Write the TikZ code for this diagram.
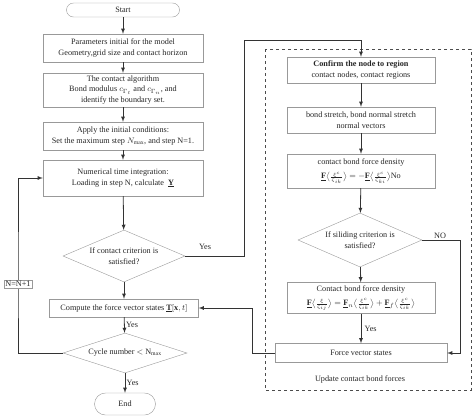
\documentclass[tikz,border=0pt]{standalone}
\usepackage{fontspec}
\setmainfont{Liberation Serif}
\usepackage{amsmath}
\usetikzlibrary{shapes.geometric,arrows}

\newcommand{\sfr}[2]{\genfrac{}{}{}{2}{#1}{#2}}

\begin{document}
\begin{tikzpicture}[x=1pt,y=-1pt,
    every node/.style={font=\fontsize{8.2}{10.5}\selectfont, text=black!85, align=center},
    box/.style={draw=black!40, inner sep=1pt},
    rbox/.style={draw=black!40, rounded corners=7pt, inner sep=1pt},
    cond/.style={diamond, draw=black!40, aspect=2.35, inner sep=0pt},
    line/.style={draw=black!80, thick},
    arr/.style={line, -latex}]

        \useasboundingbox (0,0) rectangle (474,418);

        % left column
        \node[rbox, minimum width=113, minimum height=14] (start) at (123,10) {Start};
        \node[box, minimum width=160, minimum height=28] (param) at (123,48)
          {Parameters initial for the model\\ Geometry,grid size and contact horizon};
        \node[box, minimum width=160, minimum height=34] (algo) at (123,90)
          {The contact algorithm\\ Bond modulus $c_{\Gamma_t}$ and $c_{\Gamma_n}$, and\\ identify the boundary set.};
        \node[box, minimum width=160, minimum height=28] (init) at (123,136)
          {Apply the initial conditions:\\ Set the maximum step $N_{\max}$, and step N=1.};
        \node[box, minimum width=160, minimum height=36] (integ) at (123,178)
          {Numerical time integration:\\ Loading in step N, calculate \ $\underline{\mathbf{Y}}$};
        \node[cond, minimum width=122, minimum height=52] (cc) at (124,256)
          {If contact criterion is\\ satisfied?};
        \node[box, minimum width=149, minimum height=18] (comp) at (124,308)
          {Compute the force vector states $\underline{\mathbf{T}}[\mathbf{x},t]$};
        \node[cond, minimum width=124, minimum height=40] (cycle) at (125,353)
          {Cycle number $<$ N$_{\mathrm{max}}$};
        \node[rbox, rounded corners=11pt, minimum width=61, minimum height=22] (end) at (125,404) {End};

        % right column
        \draw[black!70, dashed, thick] (265,49) rectangle (471,390);
        \node[box, minimum width=148, minimum height=26] (conf) at (361,70)
          {\textbf{Confirm the node to region}\\ contact nodes, contact regions};
        \node[box, minimum width=148, minimum height=26] (stretch) at (361,120)
          {bond stretch, bond normal stretch\\ normal vectors};
        \node[box, minimum width=148, minimum height=34] (dens) at (361,171)
          {contact bond force density\\[4pt]
           $\underline{\mathbf{F}}\big\langle\sfr{\xi^c}{\zeta_{ik}}\big\rangle=-\underline{\mathbf{F}}\big\langle\sfr{\xi^c}{\zeta_{ki}}\big\rangle$No};
        \node[cond, minimum width=124, minimum height=54] (slide) at (360,240)
          {If siliding criterion is\\ satisfied?};
        \node[box, minimum width=148, minimum height=31] (dens2) at (361,298)
          {Contact bond force density\\[4pt]
           $\underline{\mathbf{F}}\big\langle\sfr{\xi}{\zeta_{ij}}\big\rangle=\underline{\mathbf{F}}_n\big\langle\sfr{\xi^c}{\zeta_{ik}}\big\rangle+\underline{\mathbf{F}}_f\big\langle\sfr{\xi^c}{\zeta_{ik}}\big\rangle$};
        \node[box, minimum width=172, minimum height=19] (force) at (361,353) {Force vector states};
        \node (upd) at (360,379) {Update contact bond forces};

        % bends
        \coordinate (j1) at (244,40);
        \coordinate (j2) at (460,353);
        \coordinate (j3) at (252,353);
        \coordinate (j4) at (18,353);
        \coordinate (j5) at (18,284);

        % connectors
        \path[arr] (start) -- (param);
        \path[arr] (param) -- (algo);
        \path[arr] (algo) -- (init);
        \path[arr] (init) -- (integ);
        \path[arr] (integ) -- (cc);
        \path[arr] (cc) -- (comp);
        \path[arr] (comp) -- node[right, xshift=-2pt] {Yes} (cycle);
        \path[arr] (cycle) -- node[right, xshift=-2pt] {Yes} (end);
        \path[arr] (cc.east) -| (j1) -| (conf.north);
        \node at (205,247) {Yes};
        \path[arr] (conf) -- (stretch);
        \path[arr] (stretch) -- (dens);
        \path[arr] (dens) -- (slide);
        \path[arr] (slide) -- (dens2);
        \path[arr] (dens2) -- node[right] {Yes} (force);
        \path[arr] (slide.east) -| (j2) -- (force.east);
        \node at (440,236) {NO};
        \path[arr] (force.west) -- (j3) |- (comp.east);
        \path[arr] (cycle.west) -- (j4) -- (j5) |- (integ.west);
        \node[box, fill=white, inner sep=1.5pt] (inc) at (j5) {N=N+1};

      \end{tikzpicture}
\end{document}
